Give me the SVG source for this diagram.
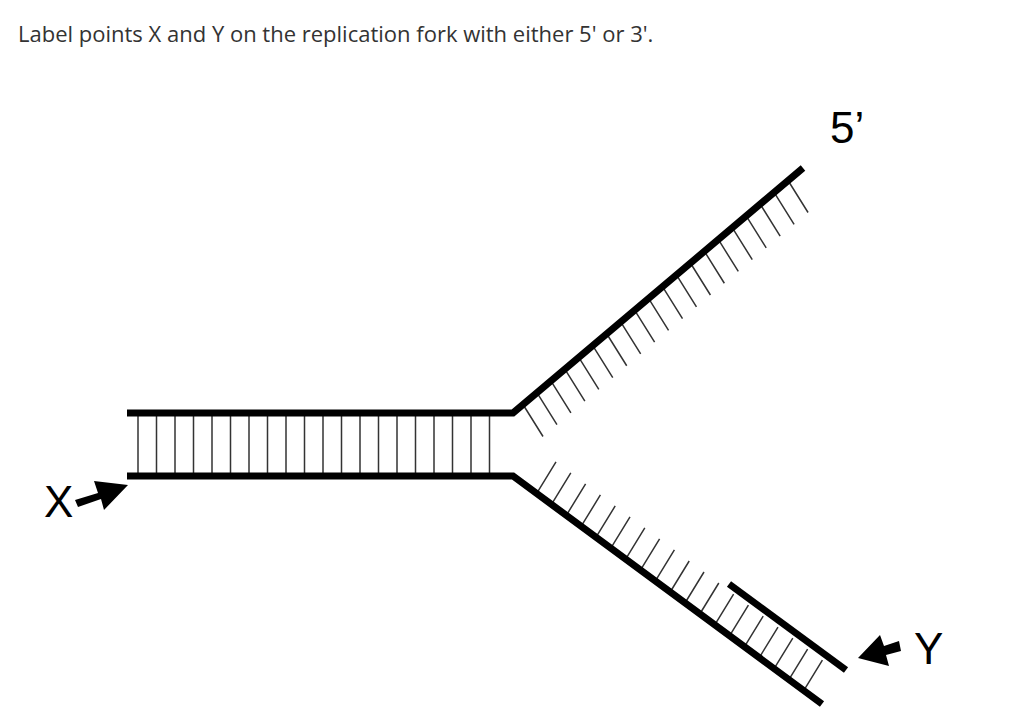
<svg xmlns="http://www.w3.org/2000/svg" width="1010" height="714" viewBox="0 0 1010 714">
<style>
.strand{stroke:#000;stroke-width:7;fill:none}
.rung{stroke:#333;stroke-width:1.5;fill:none}
.lbl{font-family:"Liberation Sans",Arial,sans-serif;font-size:44px;fill:#000}
.title{font-family:"Open Sans",sans-serif;font-size:22px;fill:#333}
</style>
<rect width="1010" height="714" fill="#fff"/>
<text class="title" x="18" y="42">Label points X and Y on the replication fork with either 5' or 3'.</text>
<g id="parental-duplex">
<path class="rung" d="M138,413 v63 m18.5,-63 v63 m18.5,-63 v63 m18.5,-63 v63 m18.5,-63 v63 m18.5,-63 v63 m18.5,-63 v63 m18.5,-63 v63 m18.5,-63 v63 m18.5,-63 v63 m18.5,-63 v63 m18.5,-63 v63 m18.5,-63 v63 m18.5,-63 v63 m18.5,-63 v63 m18.5,-63 v63 m18.5,-63 v63 m18.5,-63 v63 m18.5,-63 v63 m18.5,-63 v63"/>
</g>
<g id="leading-template">
<path class="rung" d="M523,404.5 l20,32 m-6.05,-43.79 l20,32 m-6.05,-43.79 l20,32 m-6.05,-43.79 l20,32 m-6.05,-43.79 l20,32 m-6.05,-43.79 l20,32 m-6.05,-43.79 l20,32 m-6.05,-43.79 l20,32 m-6.05,-43.79 l20,32 m-6.05,-43.79 l20,32 m-6.05,-43.79 l20,32 m-6.05,-43.79 l20,32 m-6.05,-43.79 l20,32 m-6.05,-43.79 l20,32 m-6.05,-43.79 l20,32 m-6.05,-43.79 l20,32 m-6.05,-43.79 l20,32 m-6.05,-43.79 l20,32 m-6.05,-43.79 l20,32 m-6.05,-43.79 l20,32"/>
</g>
<g id="lagging-template">
<path class="rung" d="M537,492.9 l19,-31 m-4.2,42.01 l19,-31 m-4.2,42.01 l19,-31 m-4.2,42.01 l19,-31 m-4.2,42.01 l19,-31 m-4.2,42.01 l19,-31 m-4.2,42.01 l19,-31 m-4.2,42.01 l19,-31 m-4.2,42.01 l19,-31 m-4.2,42.01 l19,-31 m-4.2,42.01 l19,-31 m-4.2,42.01 l19,-31 m-4.2,42.01 l19,-31 m-4.2,42.01 l19,-31 m-4.2,42.01 l19,-31 m-4.2,42.01 l19,-31 m-4.2,42.01 l19,-31 m-4.2,42.01 l19,-31 m-4.2,42.01 l19,-31"/>
</g>
<g id="strands">
<path class="strand" d="M127,413 H513 L803,168"/>
<path class="strand" d="M127,476 H513 L822,704"/>
<path class="strand" d="M729,584 L846,670"/>
</g>
<g id="label-X">
<text class="lbl" x="44" y="517">X</text>
<path d="M75,500 L98,493 L94,481 L128,485 L104,510 L101,499 L78,507 Z" fill="#000"/>
</g>
<g id="label-Y">
<text class="lbl" x="914" y="664">Y</text>
<path d="M858,658 L880,635 L884,646 L899,641 L901,651 L886,655 L889,666 Z" fill="#000"/>
</g>
<g id="label-5">
<text class="lbl" x="830" y="143">5’</text>
</g>
</svg>
